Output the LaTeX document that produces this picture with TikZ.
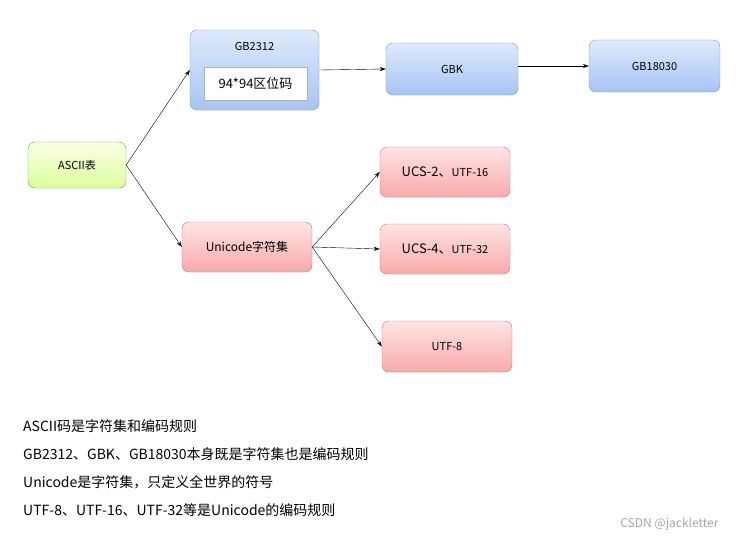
\documentclass[tikz,border=0pt]{standalone}
\usepackage{fontspec}
\setmainfont{Liberation Sans}
\newfontfamily\cjk{Noto Sans CJK SC}
\usetikzlibrary{arrows.meta}
\definecolor{bt}{RGB}{222,234,252}
\definecolor{bb}{RGB}{166,196,245}
\definecolor{bd}{RGB}{120,150,200}
\definecolor{rt}{RGB}{255,228,228}
\definecolor{rb}{RGB}{248,170,170}
\definecolor{rd}{RGB}{210,110,110}
\begin{document}
\begin{tikzpicture}[x=1pt,y=-1pt,
 box/.style={draw, rounded corners=7pt, minimum width=#1, align=center, font=\cjk\fontsize{11}{13}\selectfont},
 blue/.style={box=130pt, draw=bd, top color=bt, bottom color=bb},
 red/.style={box=130pt, draw=rd, top color=rt, bottom color=rb},
 arr/.style={-{Stealth[length=6pt,width=4pt]}, black}]
\useasboundingbox (0,0) rectangle (737,542);
\node[box=98pt, minimum height=46pt, draw=green!50!gray, top color=green!8!yellow!10, bottom color=green!35!yellow!40] (ascii) at (77,165) {ASCII表};
\node[blue, minimum width=129pt, minimum height=80pt] (gb) at (254.5,70) {};
\node[font=\cjk\fontsize{11}{13}\selectfont] at (254.5,46) {GB2312};
\node[draw=gray!60, fill=white, minimum width=103pt, minimum height=33pt, font=\cjk\fontsize{13}{15}\selectfont] (qw) at (255.5,83.5) {94*94区位码};
\node[blue, minimum width=132pt, minimum height=52pt] (gbk) at (452,69) {GBK};
\node[blue, minimum width=131pt, minimum height=52pt] (gb18) at (654.5,66) {GB18030};
\node[red, minimum width=130pt, minimum height=50pt, font=\cjk\fontsize{12}{14}\selectfont] (uni) at (247,247) {Unicode字符集};
\node[red, minimum height=50pt] (ucs2) at (445,172) {{\fontsize{13}{15}\selectfont UCS-2、}UTF-16};
\node[red, minimum height=50pt] (ucs4) at (445,249) {{\fontsize{13}{15}\selectfont UCS-4、}UTF-32};
\node[red, minimum height=51pt] (utf8) at (447,346.5) {UTF-8};
\draw[arr] (ascii.east) -- (gb.west);
\draw[arr] (ascii.east) -- (uni.west);
\draw[arr] (gb.east) -- (gbk.west);
\draw[arr] (gbk.east|-gb18.west) -- (gb18.west);
\draw[arr] (uni.east) -- (ucs2.west);
\draw[arr] (uni.east) -- (ucs4.west);
\draw[arr] (uni.east) -- (utf8.west);
\begin{scope}[every node/.style={anchor=west, inner sep=0pt, font=\cjk\fontsize{14}{16}\selectfont}]
\node (t1) at (23,426) {ASCII码是字符集和编码规则};
\node (t2) at (23,454) {GB2312、GBK、GB18030本身既是字符集也是编码规则};
\node (t3) at (23,482) {Unicode是字符集，只定义全世界的符号};
\node (t4) at (23,510) {UTF-8、UTF-16、UTF-32等是Unicode的编码规则};
\end{scope}
\node[anchor=east, text=gray!70, font=\cjk\fontsize{12}{14}\selectfont] (wm) at (722,524) {CSDN @jackletter};
\end{tikzpicture}
\end{document}
